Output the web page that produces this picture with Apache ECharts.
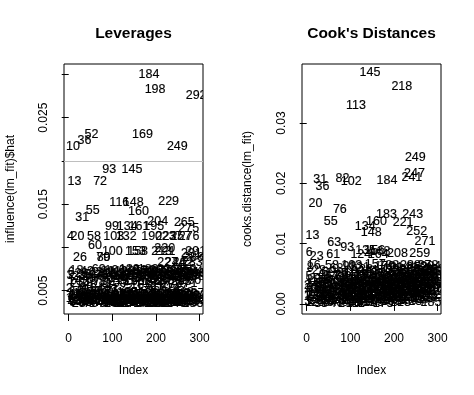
<!DOCTYPE html>
<html><head><meta charset="utf-8">
<script src="https://cdn.jsdelivr.net/npm/echarts@6/dist/echarts.min.js"></script>
<style>html,body{margin:0;padding:0;background:#fff}#c{width:474px;height:395px}</style>
</head><body><div id="c"></div>
<script>
// Leverages (hat values), observation 1..296
const leverages = [
0.0041,0.0052,0.0068,0.0113,0.0039,0.0071,0.0059,0.0044,0.0036,0.0216,
0.0047,0.0038,0.0176,0.0062,0.0043,0.0045,0.0037,0.0073,0.0049,0.0113,
0.0040,0.0058,0.0035,0.0066,0.0042,0.0088,0.0039,0.0046,0.0070,0.0037,
0.0135,0.0044,0.0061,0.0038,0.0050,0.0224,0.0041,0.0067,0.0036,0.0054,
0.0043,0.0072,0.0039,0.0047,0.0035,0.0064,0.0040,0.0057,0.0045,0.0038,
0.0069,0.0230,0.0042,0.0036,0.0143,0.0048,0.0063,0.0113,0.0040,0.0102,
0.0037,0.0071,0.0044,0.0052,0.0039,0.0066,0.0035,0.0046,0.0074,0.0041,
0.0038,0.0176,0.0060,0.0043,0.0036,0.0068,0.0049,0.0039,0.0088,0.0088,
0.0045,0.0070,0.0037,0.0055,0.0042,0.0065,0.0035,0.0047,0.0072,0.0040,
0.0038,0.0061,0.0190,0.0044,0.0036,0.0069,0.0050,0.0041,0.0124,0.0095,
0.0039,0.0067,0.0113,0.0043,0.0035,0.0073,0.0046,0.0040,0.0058,0.0037,
0.0071,0.0044,0.0038,0.0064,0.0042,0.0152,0.0036,0.0068,0.0048,0.0039,
0.0070,0.0041,0.0053,0.0037,0.0066,0.0045,0.0035,0.0072,0.0043,0.0040,
0.0062,0.0113,0.0038,0.0124,0.0047,0.0069,0.0036,0.0044,0.0074,0.0041,
0.0039,0.0065,0.0046,0.0037,0.0190,0.0071,0.0042,0.0152,0.0035,0.0060,
0.0048,0.0068,0.0095,0.0040,0.0038,0.0073,0.0045,0.0095,0.0036,0.0142,
0.0124,0.0043,0.0067,0.0039,0.0056,0.0041,0.0070,0.0037,0.0230,0.0046,
0.0064,0.0035,0.0072,0.0044,0.0040,0.0069,0.0038,0.0051,0.0042,0.0066,
0.0036,0.0074,0.0047,0.0300,0.0039,0.0061,0.0043,0.0071,0.0037,0.0113,
0.0045,0.0068,0.0040,0.0058,0.0124,0.0035,0.0072,0.0283,0.0041,0.0065,
0.0038,0.0049,0.0070,0.0130,0.0036,0.0063,0.0044,0.0073,0.0039,0.0055,
0.0042,0.0067,0.0095,0.0037,0.0071,0.0046,0.0040,0.0062,0.0035,0.0099,
0.0095,0.0069,0.0113,0.0043,0.0038,0.0074,0.0082,0.0041,0.0153,0.0047,
0.0036,0.0066,0.0044,0.0070,0.0039,0.0057,0.0113,0.0042,0.0072,0.0037,
0.0064,0.0045,0.0040,0.0082,0.0068,0.0035,0.0053,0.0071,0.0216,0.0043,
0.0038,0.0069,0.0046,0.0041,0.0073,0.0036,0.0113,0.0060,0.0044,0.0067,
0.0039,0.0082,0.0048,0.0070,0.0129,0.0037,0.0065,0.0042,0.0074,0.0040,
0.0058,0.0045,0.0036,0.0071,0.0122,0.0113,0.0043,0.0068,0.0038,0.0062,
0.0093,0.0041,0.0083,0.0072,0.0035,0.0088,0.0047,0.0066,0.0039,0.0070,
0.0095,0.0275,0.0044,0.0037,0.0069,0.0042
];
// Cook's distances, observation 1..296
const cooksDistances = [
0.0012,0.0031,0.0004,0.0022,0.0045,0.0086,0.0017,0.0060,0.0008,0.0026,
0.0039,0.0002,0.0113,0.0015,0.0033,0.0063,0.0006,0.0028,0.0019,0.0166,
0.0042,0.0010,0.0078,0.0024,0.0003,0.0036,0.0014,0.0055,0.0007,0.0030,
0.0207,0.0018,0.0001,0.0041,0.0025,0.0195,0.0011,0.0034,0.0005,0.0021,
0.0048,0.0009,0.0029,0.0016,0.0044,0.0003,0.0037,0.0013,0.0023,0.0052,
0.0006,0.0032,0.0019,0.0002,0.0137,0.0027,0.0046,0.0064,0.0010,0.0035,
0.0082,0.0015,0.0102,0.0004,0.0039,0.0022,0.0008,0.0058,0.0030,0.0012,
0.0026,0.0001,0.0043,0.0018,0.0033,0.0157,0.0007,0.0045,0.0047,0.0024,
0.0011,0.0208,0.0036,0.0003,0.0020,0.0050,0.0014,0.0029,0.0006,0.0040,
0.0017,0.0031,0.0093,0.0009,0.0025,0.0002,0.0038,0.0062,0.0013,0.0034,
0.0021,0.0203,0.0064,0.0005,0.0044,0.0016,0.0028,0.0010,0.0053,0.0023,
0.0001,0.0037,0.0329,0.0019,0.0032,0.0008,0.0041,0.0014,0.0046,0.0026,
0.0061,0.0004,0.0035,0.0082,0.0012,0.0030,0.0022,0.0057,0.0007,0.0039,
0.0018,0.0049,0.0003,0.0129,0.0089,0.0027,0.0011,0.0042,0.0024,0.0006,
0.0036,0.0015,0.0054,0.0020,0.0383,0.0033,0.0009,0.0118,0.0044,0.0028,
0.0013,0.0040,0.0002,0.0025,0.0051,0.0088,0.0065,0.0017,0.0031,0.0137,
0.0008,0.0047,0.0021,0.0082,0.0036,0.0012,0.0029,0.0087,0.0005,0.0043,
0.0024,0.0016,0.0056,0.0032,0.0001,0.0039,0.0019,0.0027,0.0062,0.0010,
0.0045,0.0035,0.0149,0.0204,0.0022,0.0007,0.0050,0.0063,0.0030,0.0014,
0.0041,0.0026,0.0004,0.0048,0.0018,0.0034,0.0011,0.0058,0.0023,0.0038,
0.0006,0.0044,0.0029,0.0015,0.0053,0.0021,0.0037,0.0083,0.0009,0.0032,
0.0046,0.0013,0.0025,0.0060,0.0003,0.0040,0.0019,0.0360,0.0035,0.0055,
0.0135,0.0027,0.0010,0.0047,0.0022,0.0033,0.0052,0.0016,0.0042,0.0006,
0.0031,0.0049,0.0020,0.0038,0.0012,0.0057,0.0028,0.0063,0.0036,0.0008,
0.0210,0.0044,0.0149,0.0024,0.0050,0.0015,0.0216,0.0039,0.0243,0.0030,
0.0011,0.0120,0.0061,0.0034,0.0047,0.0021,0.0004,0.0054,0.0083,0.0026,
0.0041,0.0017,0.0058,0.0032,0.0009,0.0045,0.0023,0.0037,0.0052,0.0013,
0.0104,0.0028,0.0043,0.0019,0.0056,0.0035,0.0007,0.0064,0.0040,0.0024,
0.0048,0.0014,0.0031,0.0062,0.0002,0.0046,0.0027,0.0053,0.0020,0.0036,
0.0044,0.0011,0.0057,0.0033,0.0025,0.0049
];
const xTicks = [0, 100, 200, 300];
const levTicks = [0.005, 0.010, 0.015, 0.020, 0.025, 0.030];
const levTickLabels = [0.005, 0.015, 0.025];
const cookTicks = [0.00, 0.01, 0.02, 0.03];
const levCutoff = 0.0202;

const FONT = '"Liberation Sans", Arial, sans-serif';
const toPoints = vals => vals.map((v, i) => [i + 1, v]);

function makeX(gi) {
  return {
    gridIndex: gi, type: 'value', min: -10.8, max: 307.8,
    axisLine: { show: false }, splitLine: { show: false },
    axisTick: { show: true, inside: false, length: 7, lineStyle: { color: '#000' }, customValues: xTicks },
    axisLabel: { customValues: xTicks, margin: 19, color: '#000', fontSize: 12, fontFamily: FONT }
  };
}
function makeY(gi, min, max, ticks, labels, digits) {
  return {
    gridIndex: gi, type: 'value', min: min, max: max,
    axisLine: { show: false }, splitLine: { show: false },
    axisTick: { show: true, inside: false, length: 7, lineStyle: { color: '#000' }, customValues: ticks },
    axisLabel: { customValues: labels, rotate: 90, margin: 14, color: '#000', fontSize: 12, fontFamily: FONT,
      formatter: v => Number(v).toFixed(digits) }
  };
}
function textSeries(gi, vals) {
  return {
    type: 'custom', xAxisIndex: gi, yAxisIndex: gi, data: toPoints(vals),
    clip: true, silent: true, animation: false,
    encode: { x: 0, y: 1 },
    renderItem: function (params, api) {
      const p = api.coord([api.value(0), api.value(1)]);
      return {
        type: 'text', x: p[0], y: p[1],
        style: { text: String(api.value(0)), font: '12.5px ' + FONT, fill: '#000',
          stroke: '#000', lineWidth: 0.15, align: 'center', verticalAlign: 'middle' }
      };
    }
  };
}

const chart = echarts.init(document.getElementById('c'));
chart.setOption({
  animation: false,
  backgroundColor: '#fff',
  grid: [
    { left: 64, top: 64, width: 139, height: 250, show: true, borderColor: '#000', borderWidth: 1, backgroundColor: 'transparent' },
    { left: 302, top: 64, width: 139, height: 250, show: true, borderColor: '#000', borderWidth: 1, backgroundColor: 'transparent' }
  ],
  xAxis: [makeX(0), makeX(1)],
  yAxis: [
    makeY(0, 0.0023, 0.0312, levTicks, levTickLabels, 3),
    makeY(1, -0.00167, 0.0398, cookTicks, cookTicks, 2)
  ],
  series: [
    {
      type: 'line', xAxisIndex: 0, yAxisIndex: 0, data: [], silent: true,
      markLine: { silent: true, symbol: 'none', label: { show: false }, animation: false,
        lineStyle: { color: '#bebebe', type: 'solid', width: 1 },
        data: [{ yAxis: levCutoff }] }
    },
    textSeries(0, leverages),
    textSeries(1, cooksDistances)
  ],
  graphic: [
    { type: 'text', x: 133.5, y: 34, style: { text: 'Leverages', font: 'bold 15.5px ' + FONT, fill: '#000', align: 'center', verticalAlign: 'middle' } },
    { type: 'text', x: 371.5, y: 34, style: { text: "Cook's Distances", font: 'bold 15.5px ' + FONT, fill: '#000', align: 'center', verticalAlign: 'middle' } },
    { type: 'text', x: 133.5, y: 371, style: { text: 'Index', font: '12px ' + FONT, fill: '#000', align: 'center', verticalAlign: 'middle' } },
    { type: 'text', x: 371.5, y: 371, style: { text: 'Index', font: '12px ' + FONT, fill: '#000', align: 'center', verticalAlign: 'middle' } },
    { type: 'text', x: 11, y: 189, rotation: Math.PI / 2, style: { text: 'influence(lm_fit)$hat', font: '12px ' + FONT, fill: '#000', align: 'center', verticalAlign: 'middle' } },
    { type: 'text', x: 248, y: 189, rotation: Math.PI / 2, style: { text: 'cooks.distance(lm_fit)', font: '12px ' + FONT, fill: '#000', align: 'center', verticalAlign: 'middle' } }
  ]
});
</script></body></html>
